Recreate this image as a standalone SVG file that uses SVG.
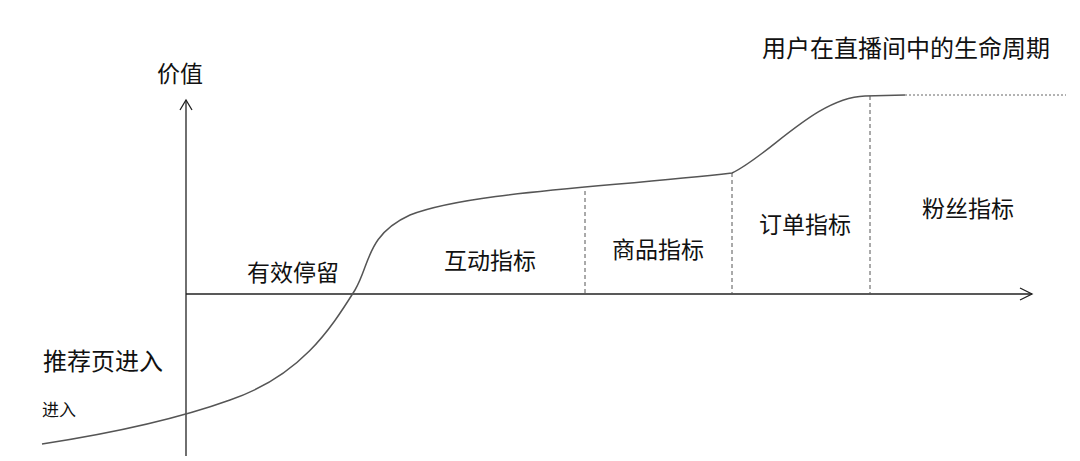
<svg xmlns="http://www.w3.org/2000/svg" width="1080" height="461" viewBox="0 0 1080 461">
<style>
text{font-family:"Microsoft YaHei","Noto Sans CJK SC",sans-serif;fill:#111}
.l{font-size:23px;text-anchor:middle}
.ax{stroke:#222;stroke-width:1.3;fill:none}
.d{stroke:#555;stroke-width:1;stroke-dasharray:4 3}
</style>
<rect width="1080" height="461" fill="#fff"/>
<g id="connectors">
<line class="ax" x1="186" y1="456" x2="186" y2="100"/>
<polyline class="ax" points="180,110 186,100 192,110"/>
<line class="ax" x1="186" y1="294" x2="1032" y2="294"/>
<polyline class="ax" points="1020,288 1032,294 1020,300"/>
<line class="d" x1="585" y1="191" x2="585" y2="294"/>
<line class="d" x1="732" y1="173" x2="732" y2="294"/>
<line class="d" x1="870" y1="96" x2="870" y2="294"/>
<line x1="905" y1="95" x2="1066" y2="95" stroke="#666" stroke-width="1" stroke-dasharray="2 2"/>
<path d="M42,444 C120,432 180,418 230,400 C300,376 330,330 355,290 C370,265 366,235 410,215 C470,192 600,188 732,173 C770,155 815,98 865,96 L905,95" fill="none" stroke="#555" stroke-width="1.5"/>
</g>
<g id="n-value"><text x="157" y="82" style="font-size:23px">价值</text></g>
<g id="n-title"><text x="906" y="57" class="l" style="font-size:24px">用户在直播间中的生命周期</text></g>
<g id="n1"><text x="293" y="281" class="l">有效停留</text></g>
<g id="n2"><text x="490" y="269" class="l">互动指标</text></g>
<g id="n3"><text x="658" y="258" class="l">商品指标</text></g>
<g id="n4"><text x="805" y="233" class="l">订单指标</text></g>
<g id="n5"><text x="968" y="217" class="l">粉丝指标</text></g>
<g id="n-entry"><text x="43" y="370" style="font-size:24px">推荐页进入</text></g>
<g id="n-entry2"><text x="42" y="416" style="font-size:17px">进入</text></g>
</svg>
